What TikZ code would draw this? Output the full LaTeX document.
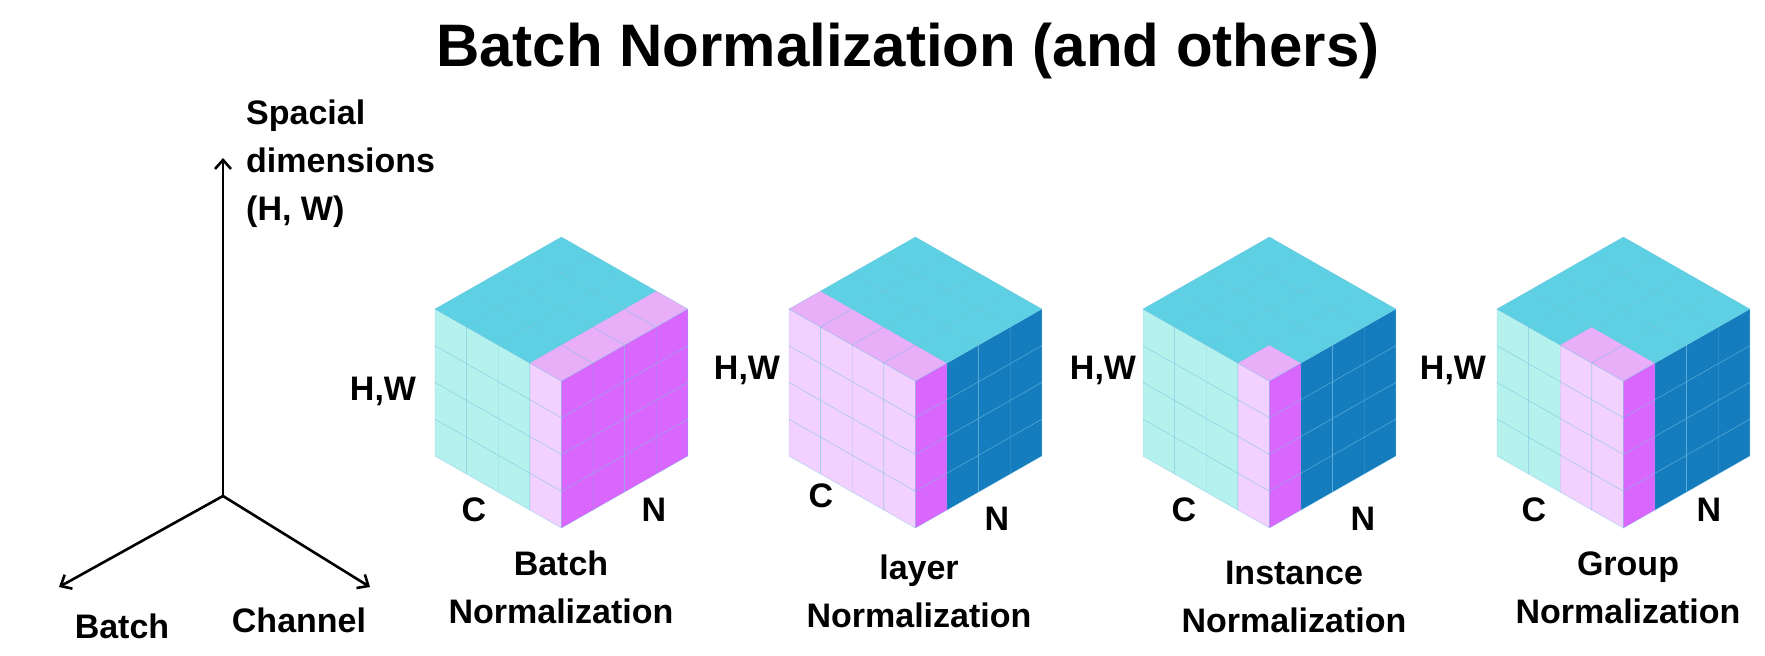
\documentclass[tikz,border=0pt]{standalone}
\usepackage{fontspec}
\setmainfont{Liberation Sans}
\usetikzlibrary{arrows.meta}

\definecolor{topcyan}{HTML}{5DD1E3}
\definecolor{leftcyan}{HTML}{B5F2EE}
\definecolor{rightblue}{HTML}{157CBD}
\definecolor{toppink}{HTML}{E8AEF8}
\definecolor{leftpink}{HTML}{F3D1FE}
\definecolor{rightpink}{HTML}{D966FD}
\definecolor{gridline}{HTML}{6FBFE0}

% point of the cube grid: (c, n, h)
\newcommand{\cpt}[3]{({((#1)+(#2))*31.6},{((#1)-(#2))*18+(#3)*36.75})}

% #1 x of left corner, #2 first highlighted c, #3 last highlighted n
\newcommand{\normcube}[3]{%
  \begin{scope}[shift={(#1,309)}]
    % left face
    \foreach \c in {0,...,3}
      \foreach \h in {0,...,3}{
        \ifnum\c<#2 \def\fc{leftcyan}\else\def\fc{leftpink}\fi
        \filldraw[cell, fill=\fc] \cpt{\c}{0}{\h} -- \cpt{\c+1}{0}{\h} -- \cpt{\c+1}{0}{\h+1} -- \cpt{\c}{0}{\h+1} -- cycle;
      }
    % right face
    \foreach \n in {0,...,3}
      \foreach \h in {0,...,3}{
        \ifnum\n>#3 \def\fc{rightblue}\else\def\fc{rightpink}\fi
        \filldraw[cell, fill=\fc] \cpt{4}{\n}{\h} -- \cpt{4}{\n+1}{\h} -- \cpt{4}{\n+1}{\h+1} -- \cpt{4}{\n}{\h+1} -- cycle;
      }
    % top face
    \foreach \c in {0,...,3}
      \foreach \n in {0,...,3}{
        \def\fc{toppink}
        \ifnum\c<#2 \def\fc{topcyan}\fi
        \ifnum\n>#3 \def\fc{topcyan}\fi
        \filldraw[cell, fill=\fc] \cpt{\c}{\n}{0} -- \cpt{\c+1}{\n}{0} -- \cpt{\c+1}{\n+1}{0} -- \cpt{\c}{\n+1}{0} -- cycle;
      }
  \end{scope}
}

\begin{document}
\begin{tikzpicture}
    [
    x=1pt, y=-1pt,
    cell/.style={draw=gridline, line width=0.4pt, draw opacity=0.6},
    axis/.style={-{Straight Barb[length=9pt, width=16pt]}, line width=2.6pt},
    title/.style={font=\bfseries\fontsize{60}{70}\selectfont},
    label/.style={font=\bfseries\fontsize{34}{48}\selectfont, align=center, inner sep=0pt},
    ]
    \useasboundingbox (0,0) rectangle (1765,656);

% Title
    \node[title] (title) at (908,51) {Batch Normalization (and others)};

% Axes
    \coordinate (origin) at (223,496);
    \coordinate (uptip) at (223,158);
    \coordinate (lefttip) at (59,587);
    \coordinate (righttip) at (370,587);
    \draw[axis] (origin) -- (uptip);
    \draw[axis] (origin) -- (lefttip);
    \draw[axis] (origin) -- (righttip);
    \node[label, align=left, anchor=north west] (spatial) at (246,100) {Spacial\\dimensions\\(H, W)};
    \node[label] (batch) at (122,626) {Batch};
    \node[label] (channel) at (299,620) {Channel};

% Cubes
    \normcube{435}{3}{3}
    \normcube{789}{0}{0}
    \normcube{1143}{3}{0}
    \normcube{1497}{2}{0}

% Cube labels
    \node[label] (hw1) at (383,391) {H,W};
    \node[label] (hw2) at (747,370) {H,W};
    \node[label] (hw3) at (1103,370) {H,W};
    \node[label] (hw4) at (1453,370) {H,W};
    \node[label] (c1) at (474,510) {C};
    \node[label] (c2) at (821,496) {C};
    \node[label] (c3) at (1184,510) {C};
    \node[label] (c4) at (1534,510) {C};
    \node[label] (n1) at (654,510) {N};
    \node[label] (n2) at (997,519) {N};
    \node[label] (n3) at (1363,519) {N};
    \node[label] (n4) at (1709,510) {N};
    \node[label] (name1) at (561,587) {Batch\\Normalization};
    \node[label] (name2) at (919,591) {layer\\Normalization};
    \node[label] (name3) at (1294,597) {Instance\\Normalization};
    \node[label] (name4) at (1628,588) {Group\\Normalization};

\end{tikzpicture}
\end{document}
